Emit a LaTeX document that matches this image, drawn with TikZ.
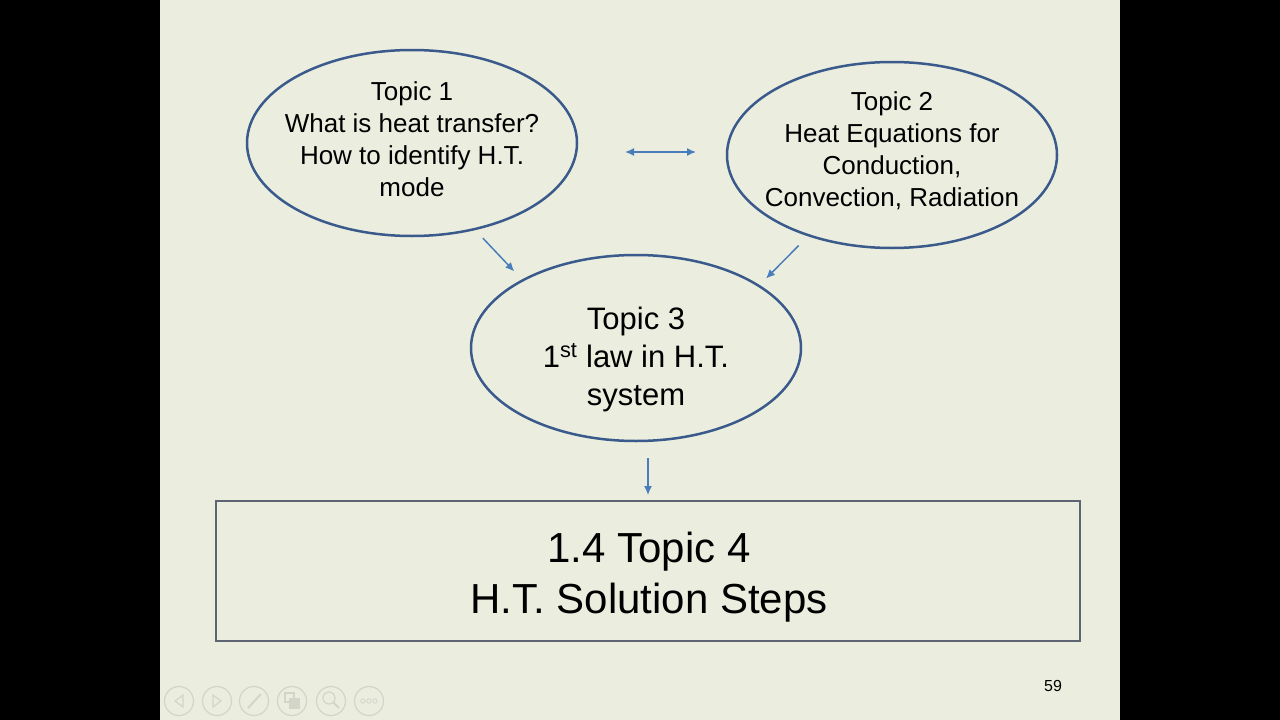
\documentclass[tikz,border=0pt]{standalone}
\usepackage{fontspec}
\setmainfont{Liberation Sans}
\usetikzlibrary{arrows.meta,shapes.geometric}
\definecolor{slidebg}{HTML}{EBEEDF}
\definecolor{rim}{HTML}{3B5A8C}
\definecolor{arrowblue}{HTML}{4A7EBB}
\definecolor{boxline}{HTML}{5E6472}
\definecolor{faint}{HTML}{D2D5C7}

\begin{document}
\begin{tikzpicture}[x=1pt,y=-1pt,
    topic/.style={ellipse,draw=rim,line width=2.5pt,minimum width=330pt,minimum height=186pt,inner sep=0pt},
    topictext/.style={align=center,inner sep=0pt,font=\fontsize{26}{32}\selectfont},
    arr/.style={draw=arrowblue,line width=1.5pt,-{Latex[length=9pt,width=8pt]}},
    ctrl/.style={draw=faint,line width=1.2pt}]
    \fill[black] (0,0) rectangle (1280,720);
    \fill[slidebg] (160,0) rectangle (1120,720);
    \node[topic] (t1) at (412,143) {};
    \node[topic] (t2) at (892,155) {};
    \node[topic] (t3) at (636,348) {};
    \node[draw=boxline,line width=1.8pt,minimum width=864pt,minimum height=140pt,inner sep=0pt] (box) at (648,571) {};
    \node[topictext] (t1text) at (412,139) {Topic 1\\What is heat transfer?\\How to identify H.T.\\mode};
    \node[topictext] (t2text) at (892,151) {Topic 2\\Heat Equations for\\Conduction,\\Convection, Radiation};
    \node[topictext,font=\fontsize{31}{38}\selectfont] (t3text) at (636,359) {Topic 3\\1\textsuperscript{st} law in H.T.\\system};
    \node[topictext,font=\fontsize{42}{51}\selectfont] (boxtext) at (649,577) {1.4 Topic 4\\H.T. Solution Steps};
    \node[inner sep=0pt,font=\fontsize{16}{19}\selectfont] (page) at (1053,686) {59};
    \coordinate (dl) at (625,152);
    \coordinate (dr) at (696,152);
    \draw[arr,{Latex[length=9pt,width=8pt]}-{Latex[length=9pt,width=8pt]}] (dl) -- (dr);
    \draw[arr,shorten <=11pt,shorten >=11pt] (t1.-54) -- (t3.149);
    \draw[arr,shorten <=13pt,shorten >=9pt] (t2.-136) -- (t3.27);
    \draw[arr,shorten <=16pt,shorten >=5pt] (box.north |- t3.south) -- (box.north);
    \foreach \cx in {179,217,254,292,331,369}
      \draw[ctrl] (\cx,701) circle (14.5);
    \draw[ctrl] (183,695) -- (175,701) -- (183,707) -- cycle;
    \draw[ctrl] (213,695) -- (221,701) -- (213,707) -- cycle;
    \draw[ctrl,line width=2pt] (248,708) -- (261,694);
    \draw[ctrl] (285,693) rectangle (294,702);
    \draw[ctrl,fill=faint] (290,699) rectangle (299,708);
    \draw[ctrl] (329,698) circle (6);
    \draw[ctrl,line width=2pt] (333,702) -- (339,708);
    \foreach \dx in {-6,0,6}
      \draw[ctrl,line width=0.8pt] (369+\dx,701) circle (2.2);
\end{tikzpicture}
\end{document}
